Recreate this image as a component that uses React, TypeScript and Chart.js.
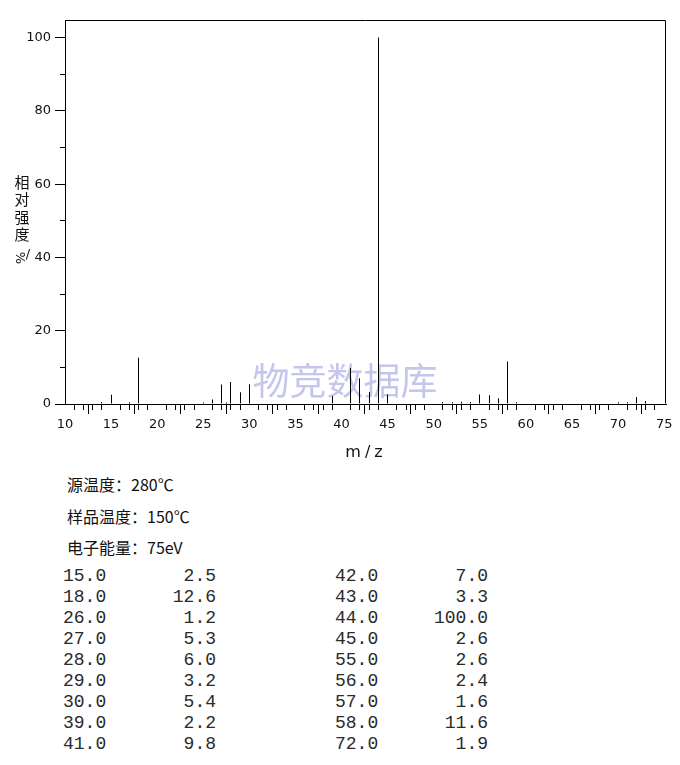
import React, { useEffect, useRef } from "react";
import { Chart, registerables } from "chart.js";

Chart.register(...registerables);

// All peaks drawn in the spectrum (m/z, relative intensity %)
const peakMz = [14, 15, 17, 18, 25, 26, 27, 27.5, 28, 29, 30, 39, 41, 42, 43, 44, 45, 51, 52, 53, 54, 55, 56, 57, 58, 59, 70, 71, 72, 73];
const peakIntensity = [0.5, 2.5, 0.5, 12.6, 0.4, 1.2, 5.3, 0.4, 6.0, 3.2, 5.4, 2.2, 9.8, 7.0, 3.3, 100, 2.6, 0.5, 0.5, 0.6, 0.5, 2.6, 2.4, 1.6, 11.6, 0.5, 0.5, 0.5, 1.9, 0.8];

// Listed peaks table
const tableMz = ["15.0", "18.0", "26.0", "27.0", "28.0", "29.0", "30.0", "39.0", "41.0", "42.0", "43.0", "44.0", "45.0", "55.0", "56.0", "57.0", "58.0", "72.0"];
const tableInt = ["2.5", "12.6", "1.2", "5.3", "6.0", "3.2", "5.4", "2.2", "9.8", "7.0", "3.3", "100.0", "2.6", "2.6", "2.4", "1.6", "11.6", "1.9"];

const infoLines = ["源温度：280℃", "样品温度：150℃", "电子能量：75eV"];

const xMin = 10;
const xMax = 75.2;
const yMin = 0;
const yMax = 104.8;
const xMajorStep = 5;
const yMajorStep = 20;
const yMinorTicks = [10, 30, 50, 70, 90];

const yLabelChars = ["相", "对", "强", "度"];
const yLabelPercent = "%";
const yLabelSlash = "/";
const xTitle = "m/z";
const watermark = "物竞数据库";

const align = (p: number) => Math.round(p - 0.5) + 0.5;

const decorPlugin = {
  id: "decor",
  beforeDatasetsDraw(chart: any) {
    const { ctx, chartArea } = chart;
    // snap bars to pixel columns so the 1px sticks are crisp
    const meta = chart.getDatasetMeta(0);
    meta.data.forEach((el: any) => {
      el.x = align(el.x);
    });
    ctx.save();
    ctx.font = "37px 'Noto Sans CJK SC'";
    ctx.fillStyle = "rgb(198,198,236)";
    ctx.textAlign = "center";
    ctx.textBaseline = "alphabetic";
    ctx.fillText(watermark, chartArea.left + 280, chartArea.bottom - 9);
    ctx.restore();
  },
  afterDraw(chart: any) {
    const { ctx, chartArea, scales } = chart;
    const xs = scales.x;
    const ys = scales.y;
    ctx.save();
    ctx.strokeStyle = "#000";
    ctx.lineWidth = 1;
    // box
    ctx.beginPath();
    const L = Math.round(chartArea.left) + 0.5;
    const R = Math.round(chartArea.right) - 0.5;
    const T = Math.round(chartArea.top) + 0.5;
    const B = Math.round(chartArea.bottom) - 0.5;
    ctx.moveTo(L, B);
    ctx.lineTo(L, T);
    ctx.lineTo(R, T);
    ctx.lineTo(R, B);
    ctx.stroke();
    // minor x ticks
    ctx.beginPath();
    for (let v = Math.ceil(xMin); v <= xMax; v++) {
      if (v % xMajorStep === 0) continue;
      const px = align(xs.getPixelForValue(v));
      ctx.moveTo(px, chartArea.bottom);
      ctx.lineTo(px, chartArea.bottom + 6);
    }
    // minor y ticks
    for (const v of yMinorTicks) {
      const py = align(ys.getPixelForValue(v));
      ctx.moveTo(chartArea.left - 5, py);
      ctx.lineTo(chartArea.left, py);
    }
    ctx.stroke();

    // x title
    ctx.fillStyle = "#111";
    ctx.font = "16px 'DejaVu Sans'";
    (ctx as any).letterSpacing = "4px";
    ctx.textAlign = "center";
    ctx.textBaseline = "middle";
    ctx.fillText(xTitle, 366, chartArea.bottom + 49);
    (ctx as any).letterSpacing = "0px";

    // y title (vertical)
    ctx.font = "15px 'Noto Sans CJK SC'";
    ctx.textAlign = "center";
    ctx.textBaseline = "middle";
    const cx = 22;
    let cy = 182;
    for (const ch of yLabelChars) {
      ctx.fillText(ch, cx, cy);
      cy += 17.5;
    }
    ctx.font = "13px 'DejaVu Sans'";
    ctx.fillText(yLabelSlash, 28, 255);
    ctx.translate(19, 258);
    ctx.rotate(Math.PI / 2);
    ctx.fillText(yLabelPercent, 0, 0);
    ctx.restore();
  },
};

export default function App() {
  const ref = useRef<HTMLCanvasElement | null>(null);

  useEffect(() => {
    if (!ref.current) return;
    const chart = new Chart(ref.current, {
      type: "bar",
      data: {
        datasets: [
          {
            data: peakMz.map((x, i) => ({ x, y: peakIntensity[i] })),
            backgroundColor: "#000",
            borderWidth: 0,
            inflateAmount: 0,
            barThickness: 1,
            grouped: false,
          } as any,
        ],
      },
      options: {
        animation: false,
        responsive: false,
        devicePixelRatio: 1,
        layout: { padding: { top: 20, right: 14, left: 0, bottom: 0 } },
        plugins: { legend: { display: false }, tooltip: { enabled: false } },
        scales: {
          x: {
            type: "linear",
            min: xMin,
            max: xMax,
            offset: false,
            afterFit: (s: any) => {
              s.height = 66;
            },
            grid: { drawOnChartArea: false, tickLength: 10, color: "#000", lineWidth: 1 },
            border: { display: true, color: "#000" },
            ticks: {
              stepSize: xMajorStep,
              includeBounds: false,
              autoSkip: false,
              maxRotation: 0,
              padding: 3,
              color: "#111",
              font: { family: "'DejaVu Sans'", size: 13 },
            },
          },
          y: {
            min: yMin,
            max: yMax,
            afterFit: (s: any) => {
              s.width = 65;
            },
            grid: { drawOnChartArea: false, tickLength: 10, color: "#000", lineWidth: 1 },
            border: { display: true, color: "#000" },
            ticks: {
              stepSize: yMajorStep,
              includeBounds: false,
              padding: 4,
              color: "#111",
              font: { family: "'DejaVu Sans'", size: 13 },
            },
          },
        },
      },
      plugins: [decorPlugin],
    });
    return () => chart.destroy();
  }, []);

  const half = Math.ceil(tableMz.length / 2);
  const rows = Array.from({ length: half }, (_, i) => i);

  return (
    <div style={{ position: "absolute", left: 0, top: 0, width: 680, height: 765, background: "#fff" }}>
      <canvas ref={ref} width={680} height={470} style={{ position: "absolute", left: 0, top: 0 }} />
      {infoLines.map((t, i) => (
        <div
          key={t}
          style={{
            position: "absolute",
            left: 67,
            top: 473 + i * 31.5,
            fontFamily: "'Noto Sans CJK SC'",
            fontSize: 16,
            lineHeight: "22px",
            color: "#111",
            whiteSpace: "nowrap",
          }}
        >
          {t}
        </div>
      ))}
      {rows.map((i) => (
        <React.Fragment key={i}>
          {[0, 1].map((c) => {
            const idx = c * half + i;
            if (idx >= tableMz.length) return null;
            const top = 566 + i * 21;
            const mzLeft = c === 0 ? 63 : 335;
            const intRight = c === 0 ? 216 : 488;
            const base = {
              position: "absolute" as const,
              top,
              fontFamily: "'Liberation Mono'",
              fontSize: 18,
              lineHeight: "21px",
              color: "#2a2a2a",
              whiteSpace: "nowrap" as const,
            };
            return (
              <React.Fragment key={c}>
                <div style={{ ...base, left: mzLeft }}>{tableMz[idx]}</div>
                <div style={{ ...base, left: intRight - 100, width: 100, textAlign: "right" }}>{tableInt[idx]}</div>
              </React.Fragment>
            );
          })}
        </React.Fragment>
      ))}
    </div>
  );
}
